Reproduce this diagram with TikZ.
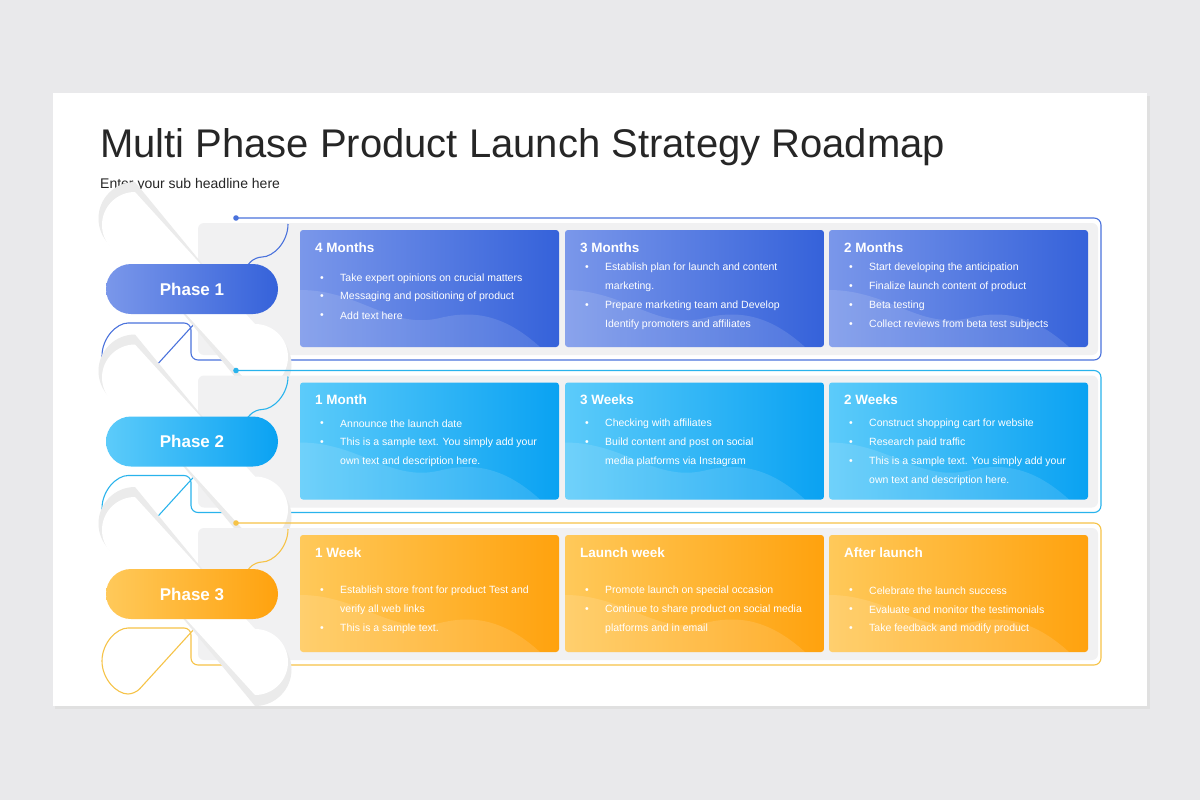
\documentclass[tikz,border=0pt]{standalone}
\usepackage{fontspec}
\setmainfont{Liberation Sans}
\usetikzlibrary{shadows}
\definecolor{bgc}{HTML}{E9E9EB}
\definecolor{greyc}{HTML}{F1F1F2}
\definecolor{aL}{HTML}{7A97EA}\definecolor{aR}{HTML}{3562DA}\definecolor{aO}{HTML}{4A72DC}
\definecolor{bL}{HTML}{5CCBFA}\definecolor{bR}{HTML}{0AA2F2}\definecolor{bO}{HTML}{29B3EC}
\definecolor{cL}{HTML}{FFC95A}\definecolor{cR}{HTML}{FFA20E}\definecolor{cO}{HTML}{F6C348}
\newcommand\bl[3]{\node[txt] at (#1+20,#2) {\textbullet}; \node[txt] at (#1+40,#2) {#3};}
\newcommand\cl[3]{\node[txt] at (#1+40,#2) {#3};}
\newcommand\hd[3]{\node[hdr] at (#1+15,#2) {#3};}
\begin{document}
\begin{tikzpicture}[x=1pt,y=-1pt,
  txt/.style={anchor=west,text=white,font=\fontsize{10.5}{12}\selectfont,inner sep=0},
  hdr/.style={anchor=west,text=white,font=\bfseries\fontsize{13.5}{15}\selectfont,inner sep=0}]
\useasboundingbox (0,0) rectangle (1200,800);
\fill[bgc] (0,0) rectangle (1200,800);
\fill[black!12] (55,96) rectangle (1150,709);
\fill[white] (53,93) rectangle (1147,706);
\node[anchor=base west,inner sep=0,font=\fontsize{40}{44}\selectfont,text=black!85] (title) at (100,157) {Multi Phase Product Launch Strategy Roadmap};
\node[anchor=base west,inner sep=0,font=\fontsize{14}{16}\selectfont,text=black!85] (sub) at (100,188) {Enter your sub headline here};
\foreach \r/\L/\R/\O/\ph in {0/aL/aR/aO/1, 1/bL/bR/bO/2, 2/cL/cR/cO/3}{
  \begin{scope}[yshift=-152.5*\r]
  \fill[greyc,rounded corners=6] (198,223) rectangle (1098,355);
  \draw[\O,line width=1.1,rounded corners=7] (236,218) -- (1101,218) -- (1101,360) -- (191,360) -- (191,323) -- (135,323)
     arc[start angle=270,end angle=90,radius=33] -- (255,257) arc[start angle=90,end angle=0,radius=33];
  \fill[\O] (236,218) circle (2.8);
  \fill[black!8] (135,255) arc[start angle=90,end angle=270,radius=36.5] -- (255,328) arc[start angle=-90,end angle=90,radius=36.5] -- cycle;
  \fill[white] (135,258) arc[start angle=90,end angle=270,radius=33] -- (255,324) arc[start angle=-90,end angle=90,radius=33] -- cycle;
  \shade[left color=\L,right color=\R,rounded corners=25] (106,264) rectangle (278,314);
  \node[font=\bfseries\fontsize{17}{19}\selectfont,text=white] (ph\ph) at (192,289) {Phase \ph};
  \foreach \x in {300,565,829}{
    \shade[left color=\L,right color=\R,rounded corners=3] (\x,230) rectangle (\x+259,347);
    \fill[white,opacity=0.12] (\x,290) .. controls (\x+60,290) and (\x+90,330) .. (\x+140,318)
       .. controls (\x+180,308) and (\x+210,320) .. (\x+240,347) -- (\x,347) -- cycle;
  }
  \end{scope}}
% row 1
\hd{300}{248}{4 Months}\hd{565}{248}{3 Months}\hd{829}{248}{2 Months}
\bl{300}{279}{Take expert opinions on crucial matters}
\bl{300}{297}{Messaging and positioning of product}
\bl{300}{316}{Add text here}
\bl{565}{268}{Establish plan for launch and content}
\cl{565}{287}{marketing.}
\bl{565}{306}{Prepare marketing team and Develop}
\cl{565}{325}{Identify promoters and affiliates}
\bl{829}{268}{Start developing the anticipation}
\bl{829}{287}{Finalize launch content of product}
\bl{829}{306}{Beta testing}
\bl{829}{325}{Collect reviews from beta test subjects}
% row 2
\hd{300}{400}{1 Month}\hd{565}{400}{3 Weeks}\hd{829}{400}{2 Weeks}
\bl{300}{424}{Announce the launch date}
\bl{300}{443}{This is a sample text. You simply add your}
\cl{300}{462}{own text and description here.}
\bl{565}{424}{Checking with affiliates}
\bl{565}{443}{Build content and post on social}
\cl{565}{462}{media platforms via Instagram}
\bl{829}{424}{Construct shopping cart for website}
\bl{829}{443}{Research paid traffic}
\bl{829}{462}{This is a sample text. You simply add your}
\cl{829}{481}{own text and description here.}
% row 3
\hd{300}{553}{1 Week}\hd{565}{553}{Launch week}\hd{829}{553}{After launch}
\bl{300}{591}{Establish store front for product Test and}
\cl{300}{610}{verify all web links}
\bl{300}{629}{This is a sample text.}
\bl{565}{591}{Promote launch on special occasion}
\bl{565}{610}{Continue to share product on social media}
\cl{565}{629}{platforms and in email}
\bl{829}{591}{Celebrate the launch success}
\bl{829}{610}{Evaluate and monitor the testimonials}
\bl{829}{629}{Take feedback and modify product}
\end{tikzpicture}
\end{document}
